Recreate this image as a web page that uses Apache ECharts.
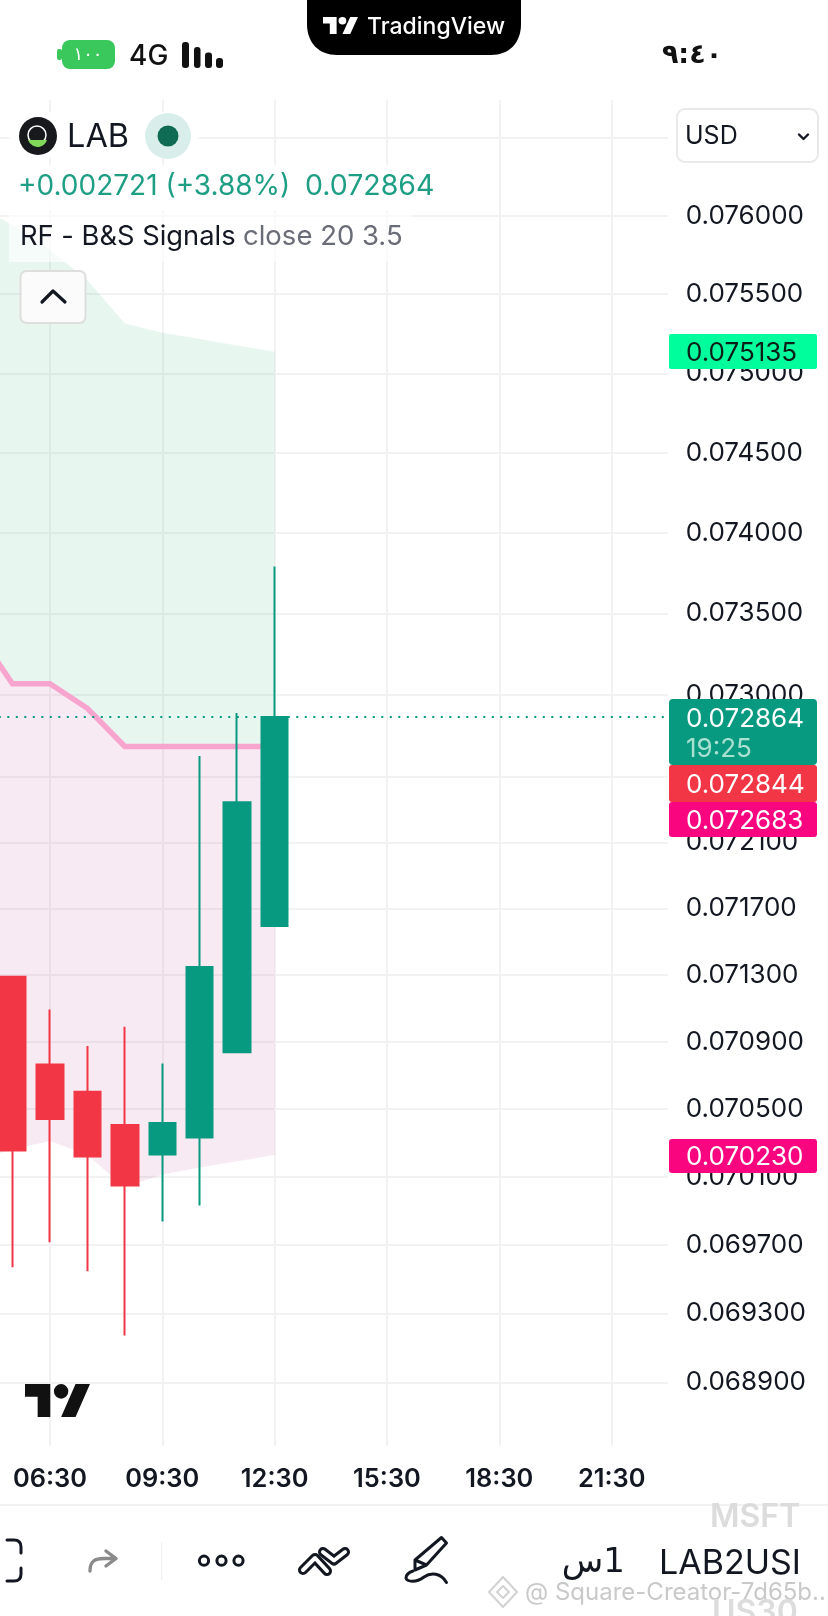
<!DOCTYPE html>
<html>
<head>
<meta charset="utf-8">
<title>LAB chart</title>
<style>html,body{margin:0;padding:0;background:#fff}#c{width:828px;height:1616px}</style>
<script src="https://cdn.jsdelivr.net/npm/echarts@6/dist/echarts.min.js"></script>
</head>
<body>
<div id="c"></div>
<script>
const categories = ['04:30','05:30','06:30','07:30','08:30','09:30','10:30','11:30','12:30','13:30','14:30','15:30','16:30','17:30','18:30','19:30','20:30','21:30','22:30'];
// [open, close, low, high]
const candles = [
  ['-','-','-','-'],
  [0.07129,0.070256,0.069569,0.07129],
  [0.070765,0.070442,0.069716,0.071093],
  [0.070604,0.070221,0.069547,0.070876],
  [0.070407,0.070049,0.069172,0.070990],
  [0.070233,0.070419,0.069838,0.070771],
  [0.070332,0.071348,0.069932,0.072625],
  [0.070839,0.072344,0.070839,0.072888],
  [0.071595,0.072864,0.071595,0.073791]
];
const filterLine = [0.073408,0.073068,0.073068,0.072917,0.072683,0.072683,0.072683,0.072683,0.072683];
const upperBand  = [0.076068,0.075941,0.075781,0.075590,0.075315,0.075256,0.075216,0.075175,0.075135];
const lowerBand  = [0.070203,0.070262,0.070312,0.070230,0.070039,0.070114,0.070155,0.070193,0.070230];
const priceTicks = [0.0765,0.0760,0.0755,0.0750,0.0745,0.0740,0.0735,0.0730,0.0725,0.0721,0.0717,0.0713,0.0709,0.0705,0.0701,0.0697,0.0693,0.0689];
const lastPrice = 0.072864;

const INK='#131722', UP='#089981', DOWN='#F23645', GRID='#F2F2F3', SANS='Inter, "Noto Sans", sans-serif';
const TV='M14 22H7V11H0V4h14v18zM28 22h-8l8-18h8l-8 18zM24 8a4 4 0 1 1-8 0 4 4 0 0 1 8 0z';

let shapeId=0;
function shapeOf(d){const name='svgp'+(shapeId++);echarts.graphic.registerShape(name,echarts.graphic.extendPath(d,{}));return name;}
function txt(text,x,y,size,fill,opt){opt=opt||{};const dy=opt.family?0:1.5;return {type:'text',z:100,silent:true,style:{text,x,y:y+dy,fill,
  font:(opt.weight||400)+' '+size+'px '+(opt.family||SANS),align:opt.align||'left',verticalAlign:'middle'}};}
function rect(x,y,w,h,fill,r,stroke,lw){return {type:'rect',z:99,silent:true,shape:{x,y,width:w,height:h,r:r||0},style:{fill:fill||'transparent',stroke:stroke||null,lineWidth:lw||0}};}
function line(d,stroke,lw,z){return {type:shapeOf(d),z:z||100,silent:true,style:{fill:'none',stroke,lineWidth:lw,lineCap:'round',lineJoin:'round'}};}
function solid(d,fill,z){return {type:shapeOf(d),z:z||100,silent:true,style:{fill}};}
function tvLogo(x,y,w,h,fill){const sx=w/36,sy=h/18;return {type:shapeOf(TV),z:101,silent:true,x:x,y:y-4*sy,scaleX:sx,scaleY:sy,style:{fill}};}
function circ(cx,cy,r,fill,stroke,lw){return {type:'circle',z:100,silent:true,shape:{cx,cy,r},style:{fill,stroke:stroke||null,lineWidth:lw||0}};}

const chrome=[
  // legend backdrops
  rect(9,112,190,46,'rgba(255,255,255,0.88)'),
  rect(9,165,412,46,'rgba(255,255,255,0.88)'),
  rect(9,212,404,50,'rgba(255,255,255,0.62)'),
  // status bar
  rect(57,49,5,11,'#3AC75C',2),
  rect(62,40,53,29,'#3AC75C',8),
  txt('١٠٠',88,55,18,'#fff',{align:'center',family:'"DejaVu Sans"'}),
  txt('4G',129,55,28,'#111',{weight:500}),
  rect(182,42,7,26,'#111',3),rect(194,47,6.5,21,'#111',3),rect(205,52.5,7,15.5,'#111',3),rect(216,58,7,10,'#111',3),
  txt('٩:٤٠',692,56,27,'#111',{align:'center',family:'"DejaVu Sans"',weight:700}),
  // tab
  solid('M307 0H521V24C521 43 509 55 491 55H337C319 55 307 43 307 24Z','#000',99),
  tvLogo(323,17,35,17,'#fff'),
  txt('TradingView',367,25.5,23,'#fff',{weight:500}),
  // symbol legend
  circ(38,136,19,'#17191C'),
  solid('M28 140A10 10 0 0 0 47 140Z','#7FD858',101),
  circ(37,135,9,'none','#fff',1.5),
  txt('LAB',67,135.5,32.5,INK),
  circ(168,136,23,'#D9EEEB'),
  circ(168,136,10.5,'#0F6B53'),
  txt('+0.002721 (+3.88%)',18,185,28,'#1E9E84'),
  txt('0.072864',305,185,28.5,'#1E9E84'),
  txt('RF - B&S Signals',20,235.5,27.3,INK),
  txt('close 20 3.5',243,235.5,27.5,'#6A6D78'),
  rect(20.5,271,65,52,'#FBFBFB',6,'#DEDEDE',2),
  line('M42 302L53 291L65 302',INK,3.2),
  // USD selector
  rect(677,109,141,53,'#fff',8,'#E9E9EA',2),
  txt('USD',685,135,25,INK),
  line('M799 134.5L803.5 139L808 134.5',INK,2.4),
  // price badges
  rect(669,334,148,35,'#00FF9C',2),
  txt('0.075135',686,351.5,26,'#0A1F17'),
  rect(669,699,148,66,UP,4),
  txt('0.072864',686,717.5,26,'#fff'),
  txt('19:25',686,747.5,26,'#A9E0D0'),
  rect(669,765,148,37,DOWN,3),
  txt('0.072844',686,783.5,26,'#fff'),
  rect(669,802,148,35,'#FA0580',3),
  txt('0.072683',686,819.5,26,'#fff'),
  rect(669,1139,148,34,'#FA0580',3),
  txt('0.070230',686,1155.5,26,'#fff'),
  // brand mark on the pane
  tvLogo(25,1384,65,33,'#111'),
  // footer
  {type:'line',z:99,silent:true,shape:{x1:0,y1:1505,x2:828,y2:1505},style:{stroke:'#F2F2F3',lineWidth:2}},
  line('M7 1540H14Q21 1540 21 1547V1553M21 1568V1574Q21 1581 14 1581H7',INK,3),
  line('M90 1571C90 1561 95 1558.5 104 1558.5H115M106 1551L116 1558.5L106 1566','#8A8A8A',3.4),
  {type:'line',z:99,silent:true,shape:{x1:161.7,y1:1542,x2:161.7,y2:1580},style:{stroke:'#EEEEEE',lineWidth:1}},
  circ(204,1560.7,4.6,'#fff',INK,3),circ(221.5,1560.7,4.6,'#fff',INK,3),circ(238.5,1560.7,4.6,'#fff',INK,3),
  line('M303 1570L315 1558L327 1571',INK,10,100),line('M303 1570L315 1558L327 1571','#fff',4,101),
  line('M323 1552L334 1560.5L345 1552',INK,10,100),line('M323 1552L334 1560.5L345 1552','#fff',4,101),
  line('M441.5 1537.5L446.5 1543L426.5 1565L415 1570L415 1560ZM415 1560L426.5 1565',INK,3),
  line('M446.5 1582.5C441 1573 431 1572 424 1577C416 1583 407 1582 406 1578C406 1574 410 1572 413 1571',INK,3),
  txt('\u202B1س\u202C',625,1563,34,INK,{align:'right',family:'"DejaVu Sans"'}),
  txt('LAB2USI',659,1562,34,INK),
  txt('MSFT',710,1516,32,'#DCDCDC',{weight:600}),
  line('M503 1577L517 1592L503 1607L489 1592Z','#D2D2D2',2),
  line('M503 1586L509 1592L503 1598L497 1592Z','#D2D2D2',2),
  txt('@ Square-Creator-7d65b...',525,1591,24,'#C9C9C9'),
  txt('US30',712,1612,32,'#DCDCDC',{weight:600})
];

const tickEvery3=(i)=>i%3===2;
const chart=echarts.init(document.getElementById('c'),null,{renderer:'canvas'});
chart.setOption({
  animation:false,
  backgroundColor:'#fff',
  grid:{left:-43.7,top:100,width:711.55,height:1346,containLabel:false,outerBoundsMode:'none'},
  xAxis:{type:'category',data:categories,boundaryGap:true,
    axisLine:{show:false},
    axisTick:{show:false,alignWithLabel:true,interval:tickEvery3},
    axisLabel:{interval:tickEvery3,color:INK,fontFamily:SANS,fontWeight:600,fontSize:25.4,margin:21},
    splitLine:{show:true,alignWithLabel:true,interval:tickEvery3,lineStyle:{color:GRID,width:2}}},
  yAxis:{type:'log',position:'right',min:0.068532,max:0.076743,scale:true,
    axisLine:{show:false},
    axisTick:{show:false,customValues:priceTicks},
    axisLabel:{customValues:priceTicks,margin:18,padding:[5,0,0,0],color:INK,fontFamily:SANS,fontSize:26,formatter:(v)=>Number(v).toFixed(6)},
    splitLine:{show:true,lineStyle:{color:GRID,width:2}},minorSplitLine:{show:false}},
  series:[
    {type:'custom',z:1,silent:true,clip:true,
     encode:{x:0,y:[1,2,3]},
     data:filterLine.map((v,i)=>[i,v,upperBand[i],lowerBand[i]]),
     renderItem:(params,api)=>{
       if(params.dataIndex!==0) return null;
       const n=filterLine.length, f=[],u=[],l=[];
       for(let i=0;i<n;i++){f.push(api.coord([i,filterLine[i]]));u.push(api.coord([i,upperBand[i]]));l.push(api.coord([i,lowerBand[i]]));}
       return {type:'group',children:[
         {type:'polygon',shape:{points:u.concat(f.slice().reverse())},style:{fill:'rgba(25,165,105,0.1)'}},
         {type:'polygon',shape:{points:f.concat(l.slice().reverse())},style:{fill:'rgba(185,45,125,0.1)'}}
       ]};
     }},
    {type:'line',z:2,silent:true,data:filterLine,symbol:'none',lineStyle:{color:'#F7A4CF',width:5.5,join:'miter'}},
    {type:'custom',z:4,silent:true,clip:true,encode:{x:0,y:1},data:[[0,lastPrice]],
     renderItem:(params,api)=>{
       const y=api.coord([0,api.value(1)])[1], cs=params.coordSys;
       return {type:'line',shape:{x1:cs.x,y1:y,x2:cs.x+cs.width,y2:y},style:{stroke:UP,lineWidth:2,lineDash:[2,6.5]}};
     }},
    {type:'candlestick',z:3,silent:true,data:candles,barWidth:27,
     itemStyle:{color:UP,color0:DOWN,borderColor:UP,borderColor0:DOWN,borderWidth:2}}
  ],
  graphic:{elements:chrome}
});
</script>
</body>
</html>
